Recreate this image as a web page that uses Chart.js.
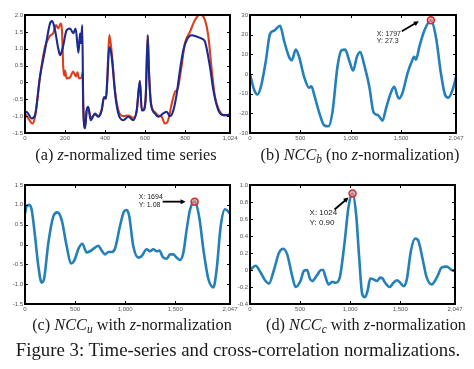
<!DOCTYPE html>
<html>
<head>
<meta charset="utf-8">
<script src="https://cdn.jsdelivr.net/npm/chart.js@4.4.1/dist/chart.umd.min.js"></script>
<style>
  body { margin: 0; width: 474px; height: 369px; background: #fff; position: relative; overflow: hidden; }
  canvas { position: absolute; }
  .cap { position: absolute; white-space: nowrap; line-height: 1; color: #1a1a1a;
         font-family: "Liberation Serif", "DejaVu Serif", serif; font-size: 16.3px; transform: translate(-50%, -50%); }
  .cap sub { font-size: 70%; vertical-align: -0.3em; line-height: 0; }
  .fig { font-size: 18.8px; }
</style>
</head>
<body>
<canvas id="chartA" width="240" height="150" style="left:0;top:0"></canvas>
<canvas id="chartB" width="240" height="150" style="left:234px;top:0"></canvas>
<canvas id="chartC" width="240" height="150" style="left:0;top:170px"></canvas>
<canvas id="chartD" width="240" height="150" style="left:234px;top:170px"></canvas>

<div class="cap" style="left:126px;top:155px">(a) <i>z</i>-normalized time series</div>
<div class="cap" style="left:360px;top:155px">(b) <i>NCC</i><sub><i>b</i></sub> (no <i>z</i>-normalization)</div>
<div class="cap" style="left:132px;top:325px">(c) <i>NCC</i><sub><i>u</i></sub> with <i>z</i>-normalization</div>
<div class="cap" style="left:366px;top:325px">(d) <i>NCC</i><sub><i>c</i></sub> with <i>z</i>-normalization</div>
<div class="cap fig" style="left:238px;top:350px">Figure 3: Time-series and cross-correlation normalizations.</div>

<script>
// (a) two z-normalized time series
const seriesA_redX = [0,22,37,50,75,100,125,141,155,166,178,185,191,196,200,208,225,240,255,262,
  270,283,288,291,300,308,316,328,350,366,383,395,405,411,421,433,450,466,491,516,
  541,558,574,583,591,603,613,619,629,649,666,683,699,712,733,749,763,779,799,824,
  849,874,899,916,933,949,974,991,1016,1024];
const seriesA_redY = [-0.92,-1.12,-1.22,-1.02,0.17,1.06,1.38,1.46,1.7,1.6,1.75,1.5,0.45,0.2,0.35,0.12,0.15,0.32,0.18,0.3,
  0.12,0.15,0.3,-0.72,-1.3,-0.85,-0.75,-1.05,-0.95,-1.0,-0.8,-0.45,-0.45,0.1,1.41,0.9,-0.25,-0.82,-1.0,-0.98,
  -1.05,-0.85,0.04,-0.8,-0.8,-0.45,1.4,0.36,-0.6,-0.88,-0.98,-1.02,-1.22,-1.17,-0.63,-0.28,-0.18,0.36,1.16,1.5,
  1.85,2.02,1.85,1.36,0.36,-0.43,-0.87,-0.97,-0.97,-0.92];
const seriesA_blueX = [0,10,33,50,75,100,125,136,150,166,175,188,208,225,241,253,267,275,280,286,
  291,300,308,316,328,350,366,383,395,405,411,421,433,450,466,491,516,541,558,574,
  583,591,603,613,619,629,649,666,691,708,724,741,758,774,791,808,833,858,883,899,
  924,941,966,991,1016,1024];
const seriesA_blueY = [-0.87,-0.88,-1.07,-0.97,0.17,0.96,1.75,1.82,1.55,1.01,0.81,1.01,1.55,1.6,1.46,1.6,0.88,1.46,1.16,1.7,
  -0.72,-1.36,-0.83,-0.72,-1.12,-0.92,-1.02,-0.83,-0.43,-0.48,0.06,1.05,0.76,-0.33,-0.92,-1.12,-1.02,-1.12,-0.83,0.04,
  -0.83,-0.83,-0.43,1.4,0.36,-0.63,-0.92,-1.02,-0.92,-0.87,-1.0,-0.83,-0.33,0.36,0.96,1.26,1.4,1.36,1.3,1.21,
  0.46,-0.23,-0.83,-0.97,-0.97,-0.92];

// (b) NCC_b
const seriesB_x = [0,40,73,106,156,199,239,299,338,388,415,455,488,537,587,611,637,687,737,780,
  819,869,909,946,985,1025,1062,1095,1135,1185,1228,1274,1317,1350,1400,1433,1467,1483,1516,1566,
  1606,1632,1649,1682,1732,1797,1848,1897,1937,1971,2014,2047];
const seriesB_y = [0,-7.9,-10.4,-7,6.2,20.4,22,24.5,17,8.7,7,12.4,8.7,-1.3,-7,-6.2,-10.4,-19.5,-26.1,-26.6,
  -19.5,3.7,12,12.4,7,1.8,8.7,11.2,4.6,-6.2,-19.5,-21,-23.7,-17.8,-9.5,-6.5,-11.5,-12.5,-9.5,0.4,
  6.2,8.7,7.3,13.7,22,27.3,18.7,0.4,-10.4,-12,-7.9,-1.6];

// (c) NCC_u
const seriesC_x = [0,17,43,67,100,133,166,190,233,283,323,366,416,459,489,539,572,616,649,692,
  732,765,799,832,865,899,948,988,1015,1041,1081,1132,1165,1215,1248,1281,1315,1341,1375,1415,
  1448,1481,1514,1548,1581,1614,1647,1694,1741,1781,1831,1881,1914,1954,1997,2030,2047];
const seriesC_y = [0.79,0.97,1.0,0.87,0.21,-0.54,-0.96,-0.87,0.04,0.71,0.81,0.62,-0.04,-0.48,-0.42,-0.08,0.02,-0.2,-0.17,-0.09,
  -0.03,-0.15,-0.25,-0.19,-0.19,-0.1,0.46,0.83,0.87,0.71,-0.04,-0.33,-0.29,-0.12,-0.17,-0.12,-0.17,-0.15,-0.31,-0.36,
  -0.25,-0.25,-0.33,-0.39,-0.21,0.37,0.87,1.08,0.67,-0.12,-0.87,-1.08,-0.62,0.46,0.89,0.83,0.77];

// (d) NCC_c
const seriesD_x = [0,56,106,156,189,239,289,332,372,421,455,504,538,571,597,620,670,710,730,753,
  786,820,853,896,940,985,1024,1060,1090,1120,1148,1175,1201,1234,1267,1300,1324,1350,1393,1433,
  1467,1500,1533,1566,1606,1649,1682,1725,1765,1815,1865,1915,1964,2014,2047];
const seriesD_y = [0,0.05,-0.03,-0.13,-0.16,0,0.2,0.25,0.18,-0.07,-0.2,-0.13,-0.01,0,-0.1,-0.13,-0.06,0,0,-0.08,
  -0.17,-0.14,-0.15,-0.09,0.28,0.75,0.9,0.65,0.15,-0.28,-0.32,-0.24,-0.1,-0.11,-0.13,-0.09,-0.1,-0.15,-0.2,-0.15,
  -0.12,-0.15,-0.19,-0.11,0.22,0.37,0.34,0.12,-0.09,-0.17,-0.09,0.03,0.04,0,-0.01];

// tick values
const xTicksA = [0, 200, 400, 600, 800, 1024];
const xTicksNCC = [0, 500, 1000, 1500, 2047];
const yTicksA = [-1.5, -1, -0.5, 0, 0.5, 1, 1.5, 2];
const yTicksB = [-30, -20, -10, 0, 10, 20, 30];
const yTicksC = [-1.5, -1, -0.5, 0, 0.5, 1, 1.5];
const yTicksD = [-0.4, -0.2, 0, 0.2, 0.4, 0.6, 0.8, 1];

// data tips (peak markers)
const peakB = [1797, 27.3];
const peakC = [1694, 1.08];
const peakD = [1024, 0.90];

const pts = (xs, ys) => xs.map((x, i) => ({ x, y: ys[i] }));
const oneDec = v => v === 0 ? '0' : v.toFixed(1);
const tickFont = { family: 'Liberation Sans, Arial, sans-serif', size: 6 };

const frame = {
  id: 'frame',
  afterDatasetsDraw(chart, args, opts) {
    const { ctx, chartArea: a, scales: { x, y } } = chart;
    ctx.save();
    ctx.strokeStyle = '#000';
    ctx.lineWidth = 1;
    ctx.beginPath();
    x.ticks.forEach(t => {
      const p = Math.round(x.getPixelForValue(t.value)) + 0.5;
      ctx.moveTo(p, a.bottom); ctx.lineTo(p, a.bottom - 3);
      ctx.moveTo(p, a.top); ctx.lineTo(p, a.top + 3);
    });
    y.ticks.forEach(t => {
      const p = Math.round(y.getPixelForValue(t.value)) + 0.5;
      ctx.moveTo(a.left, p); ctx.lineTo(a.left + 3, p);
      ctx.moveTo(a.right, p); ctx.lineTo(a.right - 3, p);
    });
    ctx.stroke();
    ctx.lineWidth = 2;
    ctx.strokeRect(a.left, a.top, a.width, a.height);

    const n = opts.note;
    if (n) {
      const px = x.getPixelForValue(n.at[0]), py = y.getPixelForValue(n.at[1]);
      // arrow
      const x0 = px + n.tail[0], y0 = py + n.tail[1], x1 = px + n.head[0], y1 = py + n.head[1];
      const ang = Math.atan2(y1 - y0, x1 - x0);
      ctx.strokeStyle = '#000';
      ctx.lineWidth = 1.8;
      ctx.beginPath(); ctx.moveTo(x0, y0); ctx.lineTo(x1 - 3 * Math.cos(ang), y1 - 3 * Math.sin(ang)); ctx.stroke();
      ctx.fillStyle = '#000';
      ctx.beginPath();
      ctx.moveTo(x1, y1);
      ctx.lineTo(x1 - 5 * Math.cos(ang) + 2.5 * Math.sin(ang), y1 - 5 * Math.sin(ang) - 2.5 * Math.cos(ang));
      ctx.lineTo(x1 - 5 * Math.cos(ang) - 2.5 * Math.sin(ang), y1 - 5 * Math.sin(ang) + 2.5 * Math.cos(ang));
      ctx.closePath(); ctx.fill();
      // marker
      ctx.beginPath(); ctx.arc(px, py, 3.5, 0, Math.PI * 2);
      ctx.fillStyle = 'rgba(230,140,140,0.7)'; ctx.fill();
      ctx.strokeStyle = '#d12a2a'; ctx.lineWidth = 1.5; ctx.stroke();
      // text
      ctx.fillStyle = '#222';
      ctx.font = n.size + 'px "Liberation Sans", Arial, sans-serif';
      ctx.textAlign = 'left'; ctx.textBaseline = 'middle';
      ctx.fillText('X: ' + n.at[0], px + n.text[0], py + n.text[1]);
      ctx.fillText('Y: ' + n.label, px + n.text[0], py + n.text[1] + n.gap);
    }
    ctx.restore();
  }
};

function panel(id, datasets, xTicks, yTicks, fmtY, box, note) {
  return new Chart(document.getElementById(id), {
    type: 'line',
    data: { datasets },
    options: {
      responsive: false,
      animation: false,
      layout: { padding: { top: box.top, right: box.right, left: 0, bottom: 0 } },
      elements: { point: { radius: 0 }, line: { cubicInterpolationMode: 'monotone' } },
      plugins: { legend: { display: false }, tooltip: { enabled: false }, frame: { note } },
      scales: {
        x: {
          type: 'linear', min: xTicks[0], max: xTicks[xTicks.length - 1],
          grid: { display: false, drawTicks: false }, border: { display: false },
          afterBuildTicks: s => { s.ticks = xTicks.map(v => ({ value: v })); },
          afterFit: s => { s.height = box.xh; s.paddingLeft = 0; s.paddingRight = 0; },
          ticks: { font: tickFont, color: '#555', padding: 2, maxRotation: 0, autoSkip: false,
                   callback: v => v.toLocaleString('en-US') }
        },
        y: {
          min: yTicks[0], max: yTicks[yTicks.length - 1],
          grid: { display: false, drawTicks: false }, border: { display: false },
          afterBuildTicks: s => { s.ticks = yTicks.map(v => ({ value: v })); },
          afterFit: s => { s.width = box.yw; s.paddingTop = 0; s.paddingBottom = 0; },
          ticks: { font: tickFont, color: '#555', padding: 2, autoSkip: false, callback: fmtY }
        }
      }
    },
    plugins: [frame]
  });
}

const nccLine = { borderColor: '#2380b8', borderWidth: 2.6, fill: false };

panel('chartA', [
  { data: pts(seriesA_blueX, seriesA_blueY), borderColor: '#1b2a8e', borderWidth: 2.1 },
  { data: pts(seriesA_redX, seriesA_redY), borderColor: '#d9411e', borderWidth: 2.1 }
], xTicksA, yTicksA, oneDec, { top: 15, right: 10, yw: 25, xh: 17 });

panel('chartB', [{ data: pts(seriesB_x, seriesB_y), ...nccLine }],
  xTicksNCC, yTicksB, v => String(v), { top: 15, right: 18, yw: 16, xh: 17 },
  { at: peakB, label: peakB[1].toFixed(1), text: [-54, 14], gap: 7, size: 7, tail: [-29, 11], head: [-12, 1] });

panel('chartC', [{ data: pts(seriesC_x, seriesC_y), ...nccLine }],
  xTicksNCC, yTicksC, oneDec, { top: 15, right: 10, yw: 25, xh: 16 },
  { at: peakC, label: peakC[1].toFixed(2), text: [-56, -5], gap: 8, size: 7, tail: [-32, 0], head: [-9, 0] });

panel('chartD', [{ data: pts(seriesD_x, seriesD_y), ...nccLine }],
  xTicksNCC, yTicksD, oneDec, { top: 15, right: 19, yw: 16, xh: 16 },
  { at: peakD, label: peakD[1].toFixed(2), text: [-43, 19], gap: 10, size: 8, tail: [-18, 16], head: [-4, 4] });
</script>
</body>
</html>
